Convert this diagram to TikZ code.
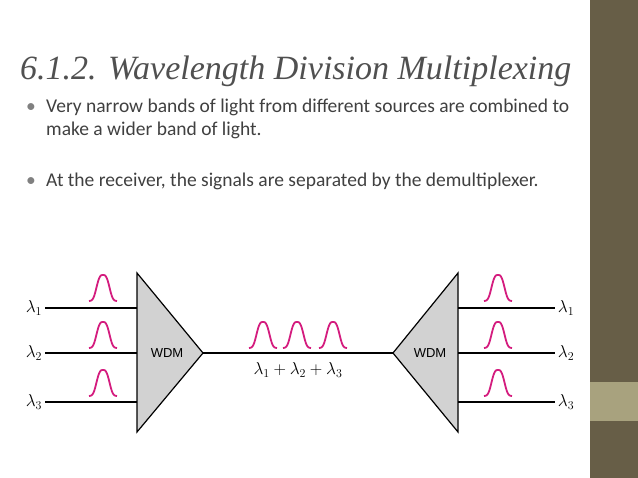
\documentclass[tikz,border=0pt]{standalone}
\usepackage{fontspec}
\setmainfont{Liberation Serif}
\newfontfamily\bodyfont{Carlito}
\newfontfamily\figfont{Liberation Sans}
\definecolor{bar}{HTML}{675E47}
\definecolor{barlight}{HTML}{A8A27E}
\definecolor{pulse}{HTML}{D41C7E}
\definecolor{txt}{HTML}{404040}
\definecolor{ttl}{HTML}{505050}
\tikzset{
  wire/.style={line width=1.2pt,black},
  wdm/.style={fill=gray!35,draw=black,line width=1.2pt},
  pls/.style={pulse,line width=1.8pt},
  lam/.style={font=\fontsize{18}{20}\selectfont,inner sep=0pt},
  bul/.style={anchor=base west,font=\bodyfont\fontsize{19.5}{22}\selectfont,text=txt,inner sep=0pt}
}
\newcommand{\pulseat}[2]{\draw[pls] plot[domain=-14:14,samples=50,smooth] ({#1+\x},{-#2+26*exp(-(abs(\x)/7.5)^3)});}
\begin{document}
\begin{tikzpicture}[x=1pt,y=1pt]
\useasboundingbox (0,0) rectangle (638,-478);
\fill[white] (0,0) rectangle (638,-478);
\fill[bar] (590,0) rectangle (638,-478);
\fill[barlight] (590,-382) rectangle (638,-421);
\node[anchor=base west,inner sep=0pt,text=ttl,font=\itshape\fontsize{34}{40}\selectfont] (title) at (20,-80) {6.1.2. Wavelength Division Multiplexing};
\node[bul,text=gray] (b1) at (26,-113) {•};
\node[bul] (t1) at (46,-113) {Very narrow bands of light from different sources are combined to};
\node[bul] (t1b) at (46,-136) {make a wider band of light.};
\node[bul,text=gray] (b2) at (26,-187) {•};
\node[bul] (t2) at (46,-187) {At the receiver, the signals are separated by the demultiplexer.};
\draw[wdm] (137,-273) -- (203,-353) -- (137,-432) -- cycle;
\coordinate (tipL) at (203,-353);
\coordinate (tipR) at (393,-353);
\draw[wdm] (458,-273) -- (393,-353) -- (458,-432) -- cycle;
\node[font=\figfont\fontsize{13}{15}\selectfont] (wl) at (167,-353) {WDM};
\node[font=\figfont\fontsize{13}{15}\selectfont] (wr) at (430,-353) {WDM};
\foreach \y/\i in {308/1,353/2,402/3}{
  \node[lam] (l\i) at (34,-\y) {$\lambda_{\i}$};
  \draw[wire] (l\i.east) ++(3,0) coordinate (s\i) -- (137,-\y);
  \node[lam] (r\i) at (566,-\y) {$\lambda_{\i}$};
  \draw[wire] (458,-\y) -- ([xshift=-3pt]r\i.west);
}
\draw[wire] (tipL) -- (tipR);
\pulseat{103}{301}\pulseat{103}{348}\pulseat{103}{396}
\pulseat{498}{301}\pulseat{498}{348}\pulseat{498}{396}
\pulseat{263}{348}\pulseat{297}{348}\pulseat{333}{348}
\node[font=\fontsize{18}{20}\selectfont] (sum) at (298,-370) {$\lambda_1 + \lambda_2 + \lambda_3$};
\end{tikzpicture}
\end{document}
